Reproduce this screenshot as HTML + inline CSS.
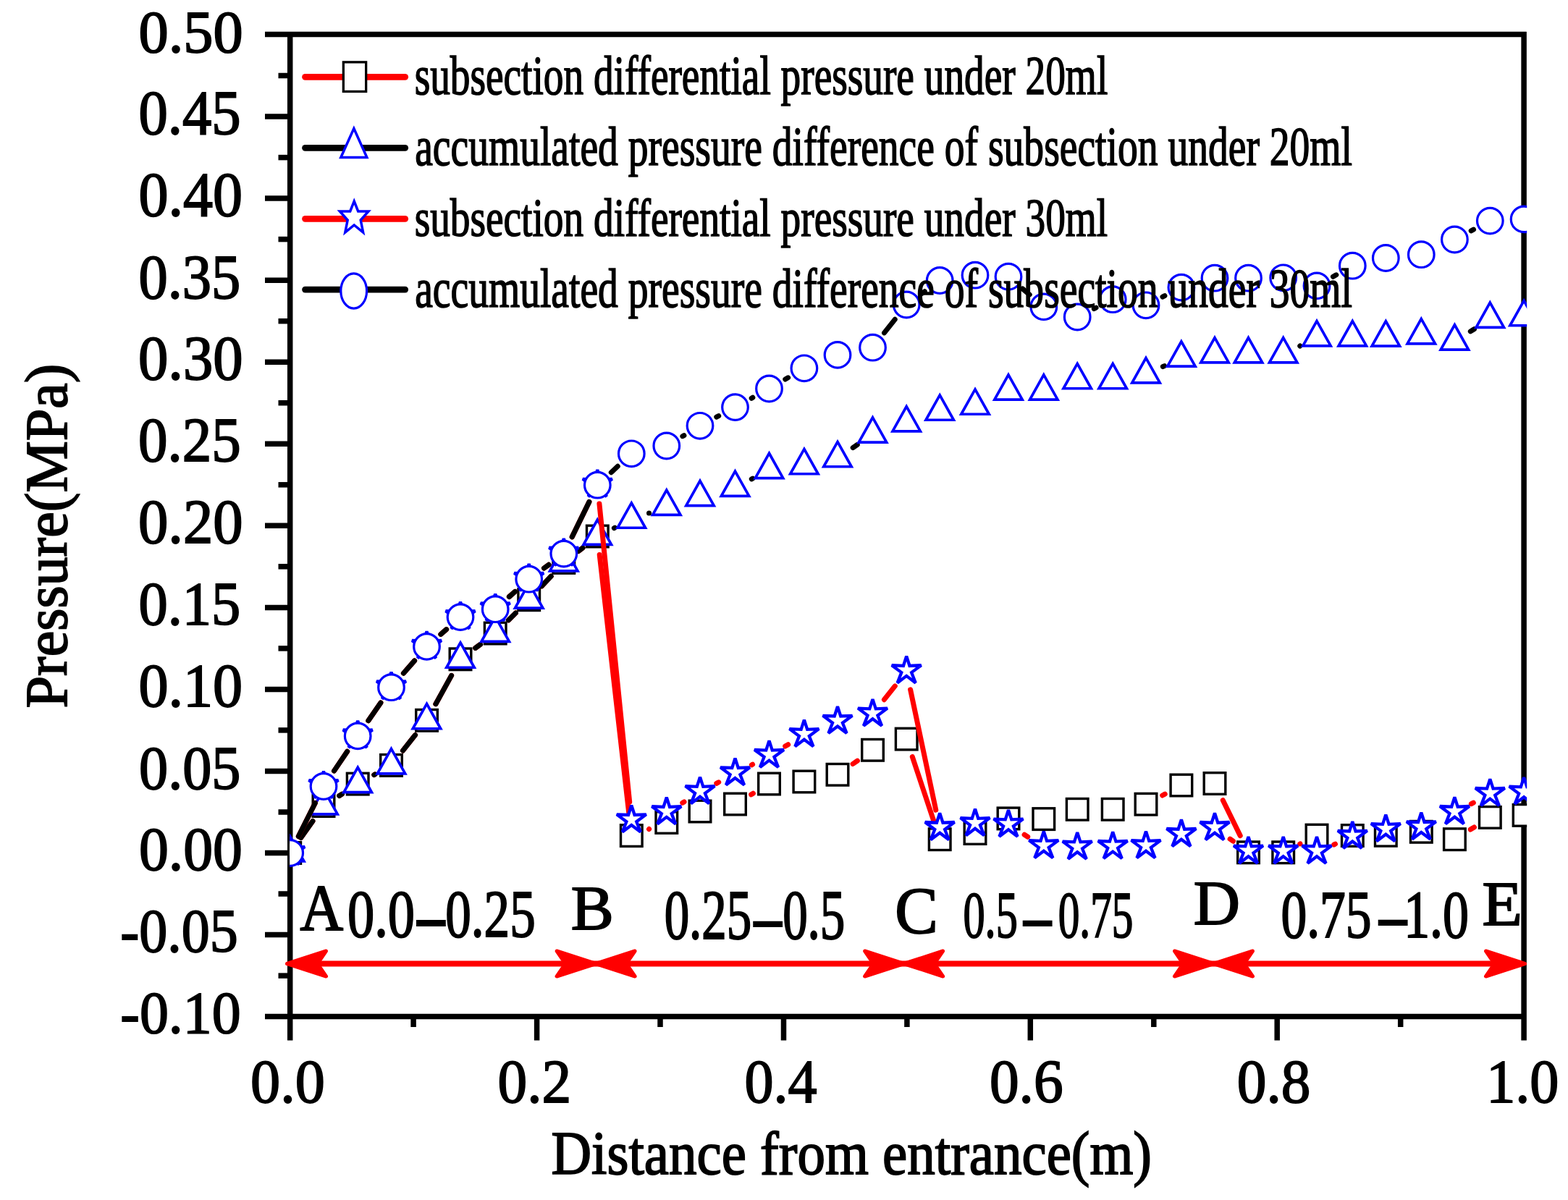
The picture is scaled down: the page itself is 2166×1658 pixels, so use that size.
<!DOCTYPE html>
<html><head><meta charset="utf-8"><title>Pressure vs distance</title>
<style>html,body{margin:0;padding:0;background:#fff;overflow:hidden}svg{display:block}</style>
</head><body>
<svg width="2166" height="1658" viewBox="0 0 2166 1658">
<rect width="2166" height="1658" fill="#fff"/>
<defs>
<clipPath id="pc"><rect x="400.2" y="0" width="1709.0" height="1400"/></clipPath>
<rect id="mS" x="-14.8" y="-14.8" width="29.6" height="29.6" fill="#fff" stroke="#000" stroke-width="3.4"/>
<polygon id="mT" points="0,-22.87 19.2,11.43 -19.2,11.43" fill="#fff" stroke="#0000ff" stroke-width="3.7" stroke-linejoin="miter"/>
<polygon id="mR" points="0.00,-20.33 4.28,-7.09 20.35,-7.78 6.92,2.14 12.58,16.45 0.00,6.91 -12.58,16.45 -6.92,2.14 -20.35,-7.78 -4.28,-7.09" transform="translate(0 -0.6)" fill="#fff" stroke="#0000ff" stroke-width="4.3" stroke-linejoin="miter" stroke-miterlimit="1.3"/>
<circle id="mC" r="17.8" fill="#fff" stroke="#0000ff" stroke-width="3.2"/>
</defs>
<g stroke="#000" stroke-width="7.5" fill="none"><path d="M400.7 44 V1437.5 M2105.1 44 V1437.5 M366 47.5 H2108.6 M366 1404.6 H2108.6"/><path d="M366 161.0 H400.7"/><path d="M366 274.1 H400.7"/><path d="M366 387.2 H400.7"/><path d="M366 500.2 H400.7"/><path d="M366 613.2 H400.7"/><path d="M366 726.3 H400.7"/><path d="M366 839.4 H400.7"/><path d="M366 952.4 H400.7"/><path d="M366 1065.5 H400.7"/><path d="M366 1178.5 H400.7"/><path d="M366 1291.6 H400.7"/><path d="M384.5 104.5 H400.7"/><path d="M384.5 217.6 H400.7"/><path d="M384.5 330.6 H400.7"/><path d="M384.5 443.7 H400.7"/><path d="M384.5 556.7 H400.7"/><path d="M384.5 669.8 H400.7"/><path d="M384.5 782.8 H400.7"/><path d="M384.5 895.9 H400.7"/><path d="M384.5 1008.9 H400.7"/><path d="M384.5 1122.0 H400.7"/><path d="M384.5 1235.0 H400.7"/><path d="M384.5 1348.1 H400.7"/><path d="M741.6 1404.6 V1437.5"/><path d="M1082.5 1404.6 V1437.5"/><path d="M1423.3 1404.6 V1437.5"/><path d="M1764.2 1404.6 V1437.5"/><path d="M571.1 1404.6 V1419"/><path d="M912.0 1404.6 V1419"/><path d="M1252.9 1404.6 V1419"/><path d="M1593.8 1404.6 V1419"/><path d="M1934.7 1404.6 V1419"/></g>
<g clip-path="url(#pc)"><path d="M415.7 1157.5L432.0 1134.5M468.7 1099.5L472.5 1097.1M516.8 1070.6L517.9 1069.9M556.5 1037.1L573.5 1015.6M601.9 972.7L623.6 933.4M656.7 895.4L663.5 890.4M702.5 856.8L712.4 846.9M748.3 809.9L761.2 796.2M799.1 761.5L805.0 756.9M828.2 766.6L869.4 1129.0M896.5 1145.6L896.6 1145.5M1037.7 1097.8L1040.3 1096.2M1178.1 1055.5L1184.4 1051.1M1260.3 1045.6L1290.1 1135.2M1605.7 1099.0L1609.2 1097.2M1689.3 1105.7L1713.2 1154.6M1795.7 1166.0L1796.0 1165.9M2031.3 1146.1L2036.4 1143.0" stroke="#ff0000" stroke-width="7.0" stroke-linecap="round" fill="none"/><use href="#mS" x="400.7" y="1178.5"/><use href="#mS" x="447.0" y="1113.5"/><use href="#mS" x="494.2" y="1083.1"/><use href="#mS" x="540.5" y="1057.4"/><use href="#mS" x="589.5" y="995.3"/><use href="#mS" x="636.0" y="910.8"/><use href="#mS" x="684.2" y="875.0"/><use href="#mS" x="730.7" y="828.7"/><use href="#mS" x="778.8" y="777.4"/><use href="#mS" x="825.3" y="741.0"/><use href="#mS" x="872.3" y="1154.6"/><use href="#mS" x="920.8" y="1136.5"/><use href="#mS" x="967.0" y="1121.0"/><use href="#mS" x="1015.5" y="1111.0"/><use href="#mS" x="1062.5" y="1083.0"/><use href="#mS" x="1110.9" y="1080.0"/><use href="#mS" x="1157.0" y="1070.3"/><use href="#mS" x="1205.5" y="1036.3"/><use href="#mS" x="1252.2" y="1021.1"/><use href="#mS" x="1298.2" y="1159.7"/><use href="#mS" x="1347.0" y="1151.5"/><use href="#mS" x="1393.0" y="1130.9"/><use href="#mS" x="1441.8" y="1131.6"/><use href="#mS" x="1488.2" y="1118.3"/><use href="#mS" x="1537.2" y="1118.3"/><use href="#mS" x="1583.0" y="1111.2"/><use href="#mS" x="1631.9" y="1085.0"/><use href="#mS" x="1678.0" y="1082.5"/><use href="#mS" x="1724.5" y="1177.8"/><use href="#mS" x="1772.7" y="1177.8"/><use href="#mS" x="1819.0" y="1154.1"/><use href="#mS" x="1868.3" y="1154.5"/><use href="#mS" x="1914.3" y="1154.3"/><use href="#mS" x="1963.3" y="1149.3"/><use href="#mS" x="2009.4" y="1159.7"/><use href="#mS" x="2058.3" y="1129.4"/><use href="#mS" x="2105.1" y="1126.4"/><path d="M415.7 1157.5L432.0 1134.5M468.7 1099.5L472.5 1097.1M516.8 1070.6L517.9 1069.9M556.5 1037.1L573.5 1015.6M601.9 972.7L623.6 933.4M656.7 895.4L663.5 890.4M702.5 856.8L712.4 846.9M748.3 809.9L761.2 796.2M799.1 761.5L805.0 756.9M848.4 729.6L849.2 729.2M896.5 708.9L896.6 708.9M1038.3 661.9L1039.7 661.2M1178.2 618.6L1184.3 614.4M1606.4 506.5L1608.5 505.6M1795.8 478.0L1795.9 477.9M2031.3 457.9L2036.4 454.7" stroke="#000000" stroke-width="7.0" stroke-linecap="round" fill="none"/><use href="#mT" x="400.7" y="1178.5"/><use href="#mT" x="447.0" y="1113.5"/><use href="#mT" x="494.2" y="1083.1"/><use href="#mT" x="540.5" y="1057.4"/><use href="#mT" x="589.5" y="995.3"/><use href="#mT" x="636.0" y="910.8"/><use href="#mT" x="684.2" y="875.0"/><use href="#mT" x="730.7" y="828.7"/><use href="#mT" x="778.8" y="777.4"/><use href="#mT" x="825.3" y="741.0"/><use href="#mT" x="872.3" y="717.8"/><use href="#mT" x="920.8" y="700.0"/><use href="#mT" x="967.0" y="687.2"/><use href="#mT" x="1015.5" y="674.0"/><use href="#mT" x="1062.5" y="649.1"/><use href="#mT" x="1110.9" y="643.3"/><use href="#mT" x="1157.0" y="633.3"/><use href="#mT" x="1205.5" y="599.7"/><use href="#mT" x="1252.2" y="584.5"/><use href="#mT" x="1298.2" y="568.8"/><use href="#mT" x="1347.0" y="560.8"/><use href="#mT" x="1393.0" y="540.7"/><use href="#mT" x="1441.8" y="540.7"/><use href="#mT" x="1488.2" y="525.3"/><use href="#mT" x="1537.2" y="525.3"/><use href="#mT" x="1583.0" y="517.4"/><use href="#mT" x="1631.9" y="494.7"/><use href="#mT" x="1678.0" y="489.5"/><use href="#mT" x="1724.5" y="489.5"/><use href="#mT" x="1772.7" y="489.5"/><use href="#mT" x="1819.0" y="466.4"/><use href="#mT" x="1868.3" y="466.5"/><use href="#mT" x="1914.3" y="466.6"/><use href="#mT" x="1963.3" y="463.4"/><use href="#mT" x="2009.4" y="471.6"/><use href="#mT" x="2058.3" y="441.0"/><use href="#mT" x="2105.1" y="438.3"/><path d="M412.3 1155.5L435.4 1109.5M461.5 1065.1L479.7 1038.3M508.8 995.7L525.9 970.9M557.4 930.2L572.6 912.9M608.9 876.4L616.6 869.6M703.4 824.5L711.5 817.4M751.5 785.0L758.0 780.3M790.2 741.9L813.9 693.4M827.9 695.9L869.7 1108.0M942.8 1109.2L945.0 1107.9M989.8 1082.4L992.7 1080.8M1038.4 1056.8L1039.6 1056.2M1084.7 1031.1L1088.7 1028.7M1221.4 966.7L1236.3 947.9M1257.6 952.8L1292.8 1119.2M1415.1 1153.3L1419.7 1156.2M1699.1 1159.2L1703.4 1162.2M1842.8 1167.0L1844.5 1166.2M2032.4 1110.6L2035.3 1109.1" stroke="#ff0000" stroke-width="7.0" stroke-linecap="round" fill="none"/><use href="#mR" x="400.7" y="1178.5"/><use href="#mR" x="447.0" y="1086.5"/><use href="#mR" x="494.2" y="1016.9"/><use href="#mR" x="540.5" y="949.7"/><use href="#mR" x="589.5" y="893.4"/><use href="#mR" x="636.0" y="852.6"/><use href="#mR" x="684.2" y="841.7"/><use href="#mR" x="730.7" y="800.2"/><use href="#mR" x="778.8" y="765.1"/><use href="#mR" x="825.3" y="670.2"/><use href="#mR" x="872.3" y="1133.7"/><use href="#mR" x="920.8" y="1122.6"/><use href="#mR" x="967.0" y="1094.5"/><use href="#mR" x="1015.5" y="1068.7"/><use href="#mR" x="1062.5" y="1044.3"/><use href="#mR" x="1110.9" y="1015.5"/><use href="#mR" x="1157.0" y="997.2"/><use href="#mR" x="1205.5" y="987.0"/><use href="#mR" x="1252.2" y="927.6"/><use href="#mR" x="1298.2" y="1144.4"/><use href="#mR" x="1347.0" y="1138.5"/><use href="#mR" x="1393.0" y="1140.0"/><use href="#mR" x="1441.8" y="1169.5"/><use href="#mR" x="1488.2" y="1171.0"/><use href="#mR" x="1537.2" y="1170.3"/><use href="#mR" x="1583.0" y="1169.5"/><use href="#mR" x="1631.9" y="1153.4"/><use href="#mR" x="1678.0" y="1144.4"/><use href="#mR" x="1724.5" y="1177.0"/><use href="#mR" x="1772.7" y="1177.0"/><use href="#mR" x="1819.0" y="1177.0"/><use href="#mR" x="1868.3" y="1156.2"/><use href="#mR" x="1914.3" y="1146.5"/><use href="#mR" x="1963.3" y="1143.7"/><use href="#mR" x="2009.4" y="1122.4"/><use href="#mR" x="2058.3" y="1097.3"/><use href="#mR" x="2105.1" y="1095.0"/><path d="M412.3 1155.5L435.4 1109.5M461.5 1065.1L479.7 1038.3M508.8 995.7L525.9 970.9M557.4 930.2L572.6 912.9M608.9 876.4L616.6 869.6M703.4 824.5L711.5 817.4M751.5 785.0L758.0 780.3M790.2 741.9L813.9 693.4M844.3 652.7L853.3 644.3M942.9 602.7L944.9 601.6M989.8 576.2L992.7 574.7M1038.2 550.3L1039.8 549.3M1084.8 524.0L1088.6 521.8M1221.5 459.9L1236.2 441.3M1273.1 405.8L1277.3 402.7M1412.6 399.0L1422.2 407.1M1511.3 426.5L1514.1 425.2M1606.0 410.2L1608.9 408.7M1841.5 382.3L1845.8 379.8M2032.2 318.9L2035.5 317.2" stroke="#000000" stroke-width="7.0" stroke-linecap="round" fill="none"/><use href="#mC" x="400.7" y="1178.5"/><use href="#mC" x="447.0" y="1086.5"/><use href="#mC" x="494.2" y="1016.9"/><use href="#mC" x="540.5" y="949.7"/><use href="#mC" x="589.5" y="893.4"/><use href="#mC" x="636.0" y="852.6"/><use href="#mC" x="684.2" y="841.7"/><use href="#mC" x="730.7" y="800.2"/><use href="#mC" x="778.8" y="765.1"/><use href="#mC" x="825.3" y="670.2"/><use href="#mC" x="872.3" y="626.8"/><use href="#mC" x="920.8" y="616.0"/><use href="#mC" x="967.0" y="588.3"/><use href="#mC" x="1015.5" y="562.6"/><use href="#mC" x="1062.5" y="537.0"/><use href="#mC" x="1110.9" y="508.8"/><use href="#mC" x="1157.0" y="490.4"/><use href="#mC" x="1205.5" y="480.2"/><use href="#mC" x="1252.2" y="421.0"/><use href="#mC" x="1298.2" y="387.5"/><use href="#mC" x="1347.0" y="380.2"/><use href="#mC" x="1393.0" y="382.2"/><use href="#mC" x="1441.8" y="423.9"/><use href="#mC" x="1488.2" y="438.0"/><use href="#mC" x="1537.2" y="413.7"/><use href="#mC" x="1583.0" y="421.8"/><use href="#mC" x="1631.9" y="397.1"/><use href="#mC" x="1678.0" y="384.2"/><use href="#mC" x="1724.5" y="384.2"/><use href="#mC" x="1772.7" y="383.8"/><use href="#mC" x="1819.0" y="394.9"/><use href="#mC" x="1868.3" y="367.2"/><use href="#mC" x="1914.3" y="356.5"/><use href="#mC" x="1963.3" y="351.7"/><use href="#mC" x="2009.4" y="331.0"/><use href="#mC" x="2058.3" y="305.1"/><use href="#mC" x="2105.1" y="302.9"/></g>
<path d="M406.5 1331.5 H2096.5" stroke="#ff0000" stroke-width="8"/><polygon points="396.5,1331.5 450.5,1314.0 438.5,1331.5 450.5,1349.0" fill="#ff0000" stroke="#ff0000" stroke-width="5" stroke-linejoin="round"/><polygon points="823.1,1331.5 769.1,1314.0 781.1,1331.5 769.1,1349.0" fill="#ff0000" stroke="#ff0000" stroke-width="5" stroke-linejoin="round"/><polygon points="823.1,1331.5 877.1,1314.0 865.1,1331.5 877.1,1349.0" fill="#ff0000" stroke="#ff0000" stroke-width="5" stroke-linejoin="round"/><polygon points="1248.6,1331.5 1194.6,1314.0 1206.6,1331.5 1194.6,1349.0" fill="#ff0000" stroke="#ff0000" stroke-width="5" stroke-linejoin="round"/><polygon points="1248.6,1331.5 1302.6,1314.0 1290.6,1331.5 1302.6,1349.0" fill="#ff0000" stroke="#ff0000" stroke-width="5" stroke-linejoin="round"/><polygon points="1676.5,1331.5 1622.5,1314.0 1634.5,1331.5 1622.5,1349.0" fill="#ff0000" stroke="#ff0000" stroke-width="5" stroke-linejoin="round"/><polygon points="1676.5,1331.5 1730.5,1314.0 1718.5,1331.5 1730.5,1349.0" fill="#ff0000" stroke="#ff0000" stroke-width="5" stroke-linejoin="round"/><polygon points="2106.5,1331.5 2052.5,1314.0 2064.5,1331.5 2052.5,1349.0" fill="#ff0000" stroke="#ff0000" stroke-width="5" stroke-linejoin="round"/>
<path d="M421.5 106.3 H559.7" stroke="#ff0000" stroke-width="8.7" stroke-linecap="round"/><text transform="matrix(0.5533 0 0 0.7579 517.31 -97.39)" x="100" y="300" font-size="100" font-family="Liberation Serif, serif" stroke="#000" stroke-width="2.2">subsection differential pressure under 20ml</text><path d="M421.5 204.3 H559.7" stroke="#000000" stroke-width="8.7" stroke-linecap="round"/><text transform="matrix(0.5557 0 0 0.7524 517.62 2.75)" x="100" y="300" font-size="100" font-family="Liberation Serif, serif" stroke="#000" stroke-width="2.2">accumulated pressure difference of subsection under 20ml</text><path d="M421.5 302.3 H559.7" stroke="#ff0000" stroke-width="8.7" stroke-linecap="round"/><text transform="matrix(0.5533 0 0 0.7456 517.31 102.31)" x="100" y="300" font-size="100" font-family="Liberation Serif, serif" stroke="#000" stroke-width="2.2">subsection differential pressure under 30ml</text><path d="M421.5 400.1 H559.7" stroke="#000000" stroke-width="8.7" stroke-linecap="round"/><text transform="matrix(0.5557 0 0 0.7538 517.62 198.34)" x="100" y="300" font-size="100" font-family="Liberation Serif, serif" stroke="#000" stroke-width="2.2">accumulated pressure difference of subsection under 30ml</text><rect x="474.35" y="85.85" width="31.3" height="40.6" fill="#fff" stroke="#000" stroke-width="3.3"/><polygon points="488.85,177.55 506.85,217.55 470.85,217.55" fill="#fff" stroke="#0000ff" stroke-width="3.5"/><polygon points="489.2,278.0 494.7,292.0 509.0,292.0 498.2,304.0 501.6,321.0 489.2,311.0 476.8,321.0 480.2,304.0 469.4,292.0 483.7,292.0" fill="#fff" stroke="#0000ff" stroke-width="3.5"/><ellipse cx="488.7" cy="402" rx="17.9" ry="24.15" fill="#fff" stroke="#0000ff" stroke-width="3.2"/>
<text transform="matrix(0.8243 0 0 0.8304 109.00 -176.82)" x="100" y="300" font-size="100" font-family="Liberation Serif, serif" stroke="#000" stroke-width="2.2">0.50</text><text transform="matrix(0.8065 0 0 0.8667 110.83 -75.00)" x="100" y="300" font-size="100" font-family="Liberation Serif, serif" stroke="#000" stroke-width="2.2">0.45</text><text transform="matrix(0.8207 0 0 0.8638 109.37 38.88)" x="100" y="300" font-size="100" font-family="Liberation Serif, serif" stroke="#000" stroke-width="2.2">0.40</text><text transform="matrix(0.8053 0 0 0.8623 110.95 152.82)" x="100" y="300" font-size="100" font-family="Liberation Serif, serif" stroke="#000" stroke-width="2.2">0.35</text><text transform="matrix(0.8266 0 0 0.8681 108.36 263.86)" x="100" y="300" font-size="100" font-family="Liberation Serif, serif" stroke="#000" stroke-width="2.2">0.30</text><text transform="matrix(0.8095 0 0 0.8681 110.12 376.76)" x="100" y="300" font-size="100" font-family="Liberation Serif, serif" stroke="#000" stroke-width="2.2">0.25</text><text transform="matrix(0.8266 0 0 0.8681 108.36 489.66)" x="100" y="300" font-size="100" font-family="Liberation Serif, serif" stroke="#000" stroke-width="2.2">0.20</text><text transform="matrix(0.8053 0 0 0.8429 110.95 610.21)" x="100" y="300" font-size="100" font-family="Liberation Serif, serif" stroke="#000" stroke-width="2.2">0.15</text><text transform="matrix(0.8213 0 0 0.8429 109.31 723.21)" x="100" y="300" font-size="100" font-family="Liberation Serif, serif" stroke="#000" stroke-width="2.2">0.10</text><text transform="matrix(0.8030 0 0 0.8565 111.70 832.57)" x="100" y="300" font-size="100" font-family="Liberation Serif, serif" stroke="#000" stroke-width="2.2">0.05</text><text transform="matrix(0.8172 0 0 0.8478 110.23 947.41)" x="100" y="300" font-size="100" font-family="Liberation Serif, serif" stroke="#000" stroke-width="2.2">0.00</text><text transform="matrix(0.7802 0 0 0.8493 88.34 1059.97)" x="100" y="300" font-size="100" font-family="Liberation Serif, serif" stroke="#000" stroke-width="2.2">-0.05</text><text transform="matrix(0.7985 0 0 0.8314 86.45 1177.88)" x="100" y="300" font-size="100" font-family="Liberation Serif, serif" stroke="#000" stroke-width="2.2">-0.10</text><text transform="matrix(0.8227 0 0 0.8435 263.76 1269.63)" x="100" y="300" font-size="100" font-family="Liberation Serif, serif" stroke="#000" stroke-width="2.2">0.0</text><text transform="matrix(0.8136 0 0 0.8435 606.10 1269.63)" x="100" y="300" font-size="100" font-family="Liberation Serif, serif" stroke="#000" stroke-width="2.2">0.2</text><text transform="matrix(0.8000 0 0 0.8435 948.40 1269.63)" x="100" y="300" font-size="100" font-family="Liberation Serif, serif" stroke="#000" stroke-width="2.2">0.4</text><text transform="matrix(0.8133 0 0 0.8435 1285.63 1269.63)" x="100" y="300" font-size="100" font-family="Liberation Serif, serif" stroke="#000" stroke-width="2.2">0.6</text><text transform="matrix(0.8134 0 0 0.8435 1627.42 1269.63)" x="100" y="300" font-size="100" font-family="Liberation Serif, serif" stroke="#000" stroke-width="2.2">0.8</text><text transform="matrix(0.8018 0 0 0.8400 1973.01 1271.38)" x="100" y="300" font-size="100" font-family="Liberation Serif, serif" stroke="#000" stroke-width="2.2">1.0</text><text transform="matrix(0.7701 0 0 0.8421 684.45 1368.94)" x="100" y="300" font-size="100" font-family="Liberation Serif, serif" stroke="#000" stroke-width="2.2">Distance from entrance(m)</text><text transform="matrix(0 -0.8010 0.8340 0 -158.10 1058.60)" x="100" y="300" font-size="100" font-family="Liberation Serif, serif" stroke="#000" stroke-width="2.2">Pressure(MPa)</text><text transform="matrix(0.8260 0 0 0.9000 331.90 1015.20)" x="100" y="300" font-size="100" font-family="Liberation Serif, serif" stroke="#000" stroke-width="2.2">A</text><text transform="matrix(0.8852 0 0 0.8687 700.20 1023.73)" x="100" y="300" font-size="100" font-family="Liberation Serif, serif" stroke="#000" stroke-width="2.2">B</text><text transform="matrix(0.8915 0 0 0.9029 1147.17 1017.82)" x="100" y="300" font-size="100" font-family="Liberation Serif, serif" stroke="#000" stroke-width="2.2">C</text><text transform="matrix(0.8896 0 0 0.8597 1559.87 1019.53)" x="100" y="300" font-size="100" font-family="Liberation Serif, serif" stroke="#000" stroke-width="2.2">D</text><text transform="matrix(0.9055 0 0 0.8701 1956.84 1016.99)" x="100" y="300" font-size="100" font-family="Liberation Serif, serif" stroke="#000" stroke-width="2.2">E</text><text transform="matrix(0.7437 0 0 0.9275 405.70 1015.86)" x="100" y="300" font-size="100" font-family="Liberation Serif, serif" stroke="#000" stroke-width="2.2">0.0</text><text transform="matrix(0.7962 0 0 1.8200 495.88 771.72)" x="100" y="300" font-size="100" font-family="Liberation Serif, serif">–</text><text transform="matrix(0.7112 0 0 0.9275 544.14 1015.86)" x="100" y="300" font-size="100" font-family="Liberation Serif, serif" stroke="#000" stroke-width="2.2">0.25</text><text transform="matrix(0.6882 0 0 0.9652 848.82 1007.04)" x="100" y="300" font-size="100" font-family="Liberation Serif, serif" stroke="#000" stroke-width="2.2">0.25</text><text transform="matrix(0.7962 0 0 1.6800 961.08 812.08)" x="100" y="300" font-size="100" font-family="Liberation Serif, serif">–</text><text transform="matrix(0.6899 0 0 0.9652 1012.14 1007.04)" x="100" y="300" font-size="100" font-family="Liberation Serif, serif" stroke="#000" stroke-width="2.2">0.5</text><text transform="matrix(0.6025 0 0 0.9000 1270.24 1024.90)" x="100" y="300" font-size="100" font-family="Liberation Serif, serif" stroke="#000" stroke-width="2.2">0.5</text><text transform="matrix(0.7962 0 0 1.6800 1333.58 811.38)" x="100" y="300" font-size="100" font-family="Liberation Serif, serif">–</text><text transform="matrix(0.5929 0 0 0.9000 1402.43 1024.90)" x="100" y="300" font-size="100" font-family="Liberation Serif, serif" stroke="#000" stroke-width="2.2">0.75</text><text transform="matrix(0.7154 0 0 0.9377 1697.92 1013.48)" x="100" y="300" font-size="100" font-family="Liberation Serif, serif" stroke="#000" stroke-width="2.2">0.75</text><text transform="matrix(0.7962 0 0 1.6800 1824.68 810.08)" x="100" y="300" font-size="100" font-family="Liberation Serif, serif">–</text><text transform="matrix(0.7193 0 0 0.9243 1867.22 1017.54)" x="100" y="300" font-size="100" font-family="Liberation Serif, serif" stroke="#000" stroke-width="2.2">1.0</text>
</svg>
</body></html>
